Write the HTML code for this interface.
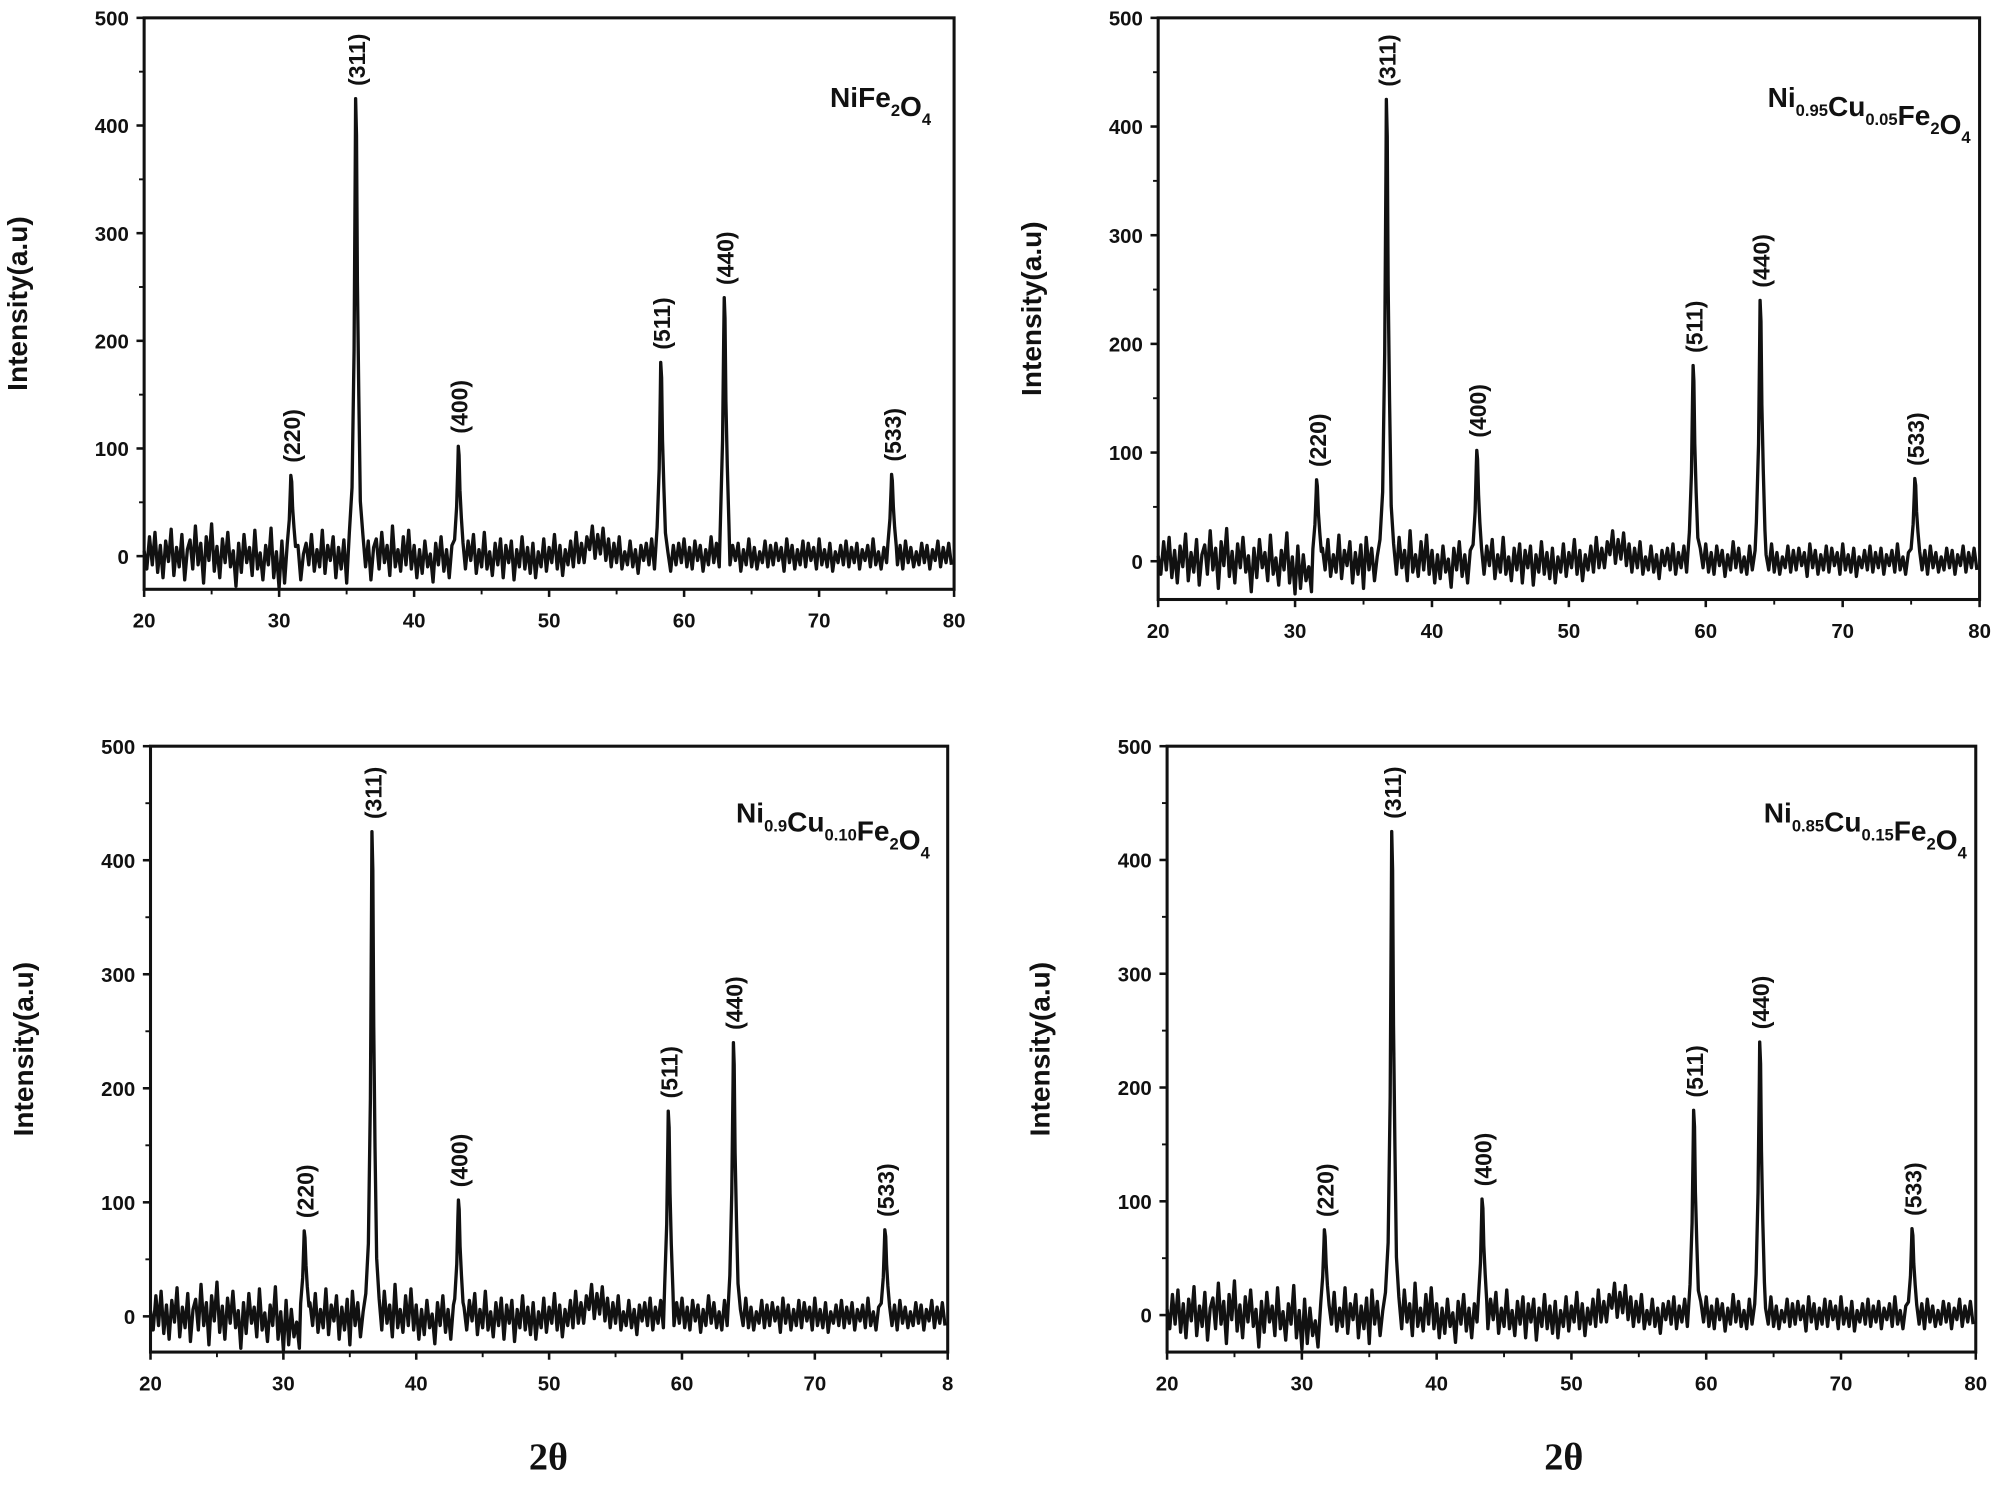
<!DOCTYPE html>
<html><head><meta charset="utf-8"><style>
html,body{margin:0;padding:0;background:#fff;}
svg{display:block;}
text{font-family:"Liberation Sans",Arial,sans-serif;font-weight:bold;fill:#111;}
</style></head>
<body>
<svg id="fig" width="2000" height="1486" viewBox="0 0 1568 1165" preserveAspectRatio="none" xmlns="http://www.w3.org/2000/svg">
<text x="430" y="1152" text-anchor="middle" style="font-family:'Liberation Serif',serif;font-size:30px">2θ</text>
<text x="1226" y="1152" text-anchor="middle" style="font-family:'Liberation Serif',serif;font-size:30px">2θ</text>
</svg>
<script>
const xTicks=[20,30,40,50,60,70,80];
const yTicks=[0,100,200,300,400,500];
const peakLabels=["(220)","(311)","(400)","(511)","(440)","(533)"];
const peakHeights=[75,425,102,180,240,76];
const peaksA=[30.9,35.7,43.3,58.3,63.0,75.4];
const peaksB=[31.6,36.7,43.3,59.1,64.0,75.3];
const peaksC=[31.6,36.7,43.2,59.0,63.9,75.3];
const peaksD=[31.7,36.7,43.4,59.1,64.0,75.3];
const noise=[
5,-12,18,-8,22,-15,10,-20,14,-5,25,-18,8,-10,20,-22,6,15,-12,28,
-8,12,-25,18,-4,30,-14,9,-20,16,-6,22,-10,5,-28,12,-15,20,-6,8,
-18,24,-12,3,-22,10,-8,26,-20,4,-30,14,-25,6,-18,-5,-28,10,-22,2,
12,-8,20,-14,6,-10,24,-16,10,-4,18,-20,8,-12,15,-25,22,-8,12,-18,
4,20,-10,14,-22,8,16,-12,22,-6,10,-18,28,-10,6,-14,18,-8,24,-12,
10,-20,6,-16,14,-10,2,-24,12,-8,18,-14,6,-20,10,-6,16,-18,8,-12,
14,-4,20,-16,6,-10,22,-12,4,-18,12,-8,16,-20,10,-6,14,-22,6,-10,
18,-12,8,-16,12,-20,4,-10,16,-14,8,-6,20,-12,10,-18,6,-8,14,-10,
22,-6,12,-16,8,-4,18,-12,10,-8,16,-14,6,-10,12,-6,18,-12,4,-8,
14,-10,6,-16,10,-4,12,-8,16,-12,8,-6,14,-10,4,-14,10,-8,12,-6,
16,-10,8,-12,14,-4,10,-14,6,-8,18,-6,12,-10,4,-12,14,-8,10,-4,
12,-14,6,-8,16,-10,8,-12,4,-6,14,-10,10,-8,12,-4,8,-14,16,-6,
10,-12,6,-8,14,-10,12,-4,8,-12,16,-8,6,-10,12,-14,4,-6,10,-8,
14,-10,8,-6,12,-12,6,-4,10,-10,16,-8,4,-12,8,-6,12,-10,6,-8,
10,-12,14,-6,8,-10,4,-8,12,-6,10,-12,6,-4,14,-10,8,-6,12,-8];
const panels=[
 {x0:113,x1:748,yTop:14,yZero:436,yBot:462,peaks:peaksA,label:[["Ni",""],["Fe","2"],["O","4"]],lx:730,ly:84,last:"80"},
 {x0:908,x1:1552,yTop:14,yZero:440,yBot:470,peaks:peaksB,label:[["Ni","0.95"],["Cu","0.05"],["Fe","2"],["O","4"]],lx:1545,ly:84,last:"80"},
 {x0:118,x1:743,yTop:585,yZero:1032,yBot:1060,peaks:peaksC,label:[["Ni","0.9"],["Cu","0.10"],["Fe","2"],["O","4"]],lx:729,ly:645,last:"8"},
 {x0:915,x1:1549,yTop:585,yZero:1031,yBot:1060,peaks:peaksD,label:[["Ni","0.85"],["Cu","0.15"],["Fe","2"],["O","4"]],lx:1542,ly:645,last:"80"}
];
const NS="http://www.w3.org/2000/svg";
const svg=document.getElementById('fig');
function mk(tag,attrs,parent){const e=document.createElementNS(NS,tag);for(const k in attrs)e.setAttribute(k,attrs[k]);(parent||svg).appendChild(e);return e;}
panels.forEach((p,pi)=>{
 const g=mk('g',{});
 
 
 const sx=v=>p.x0+(v-20)/60*(p.x1-p.x0);
 const per=(p.yZero-p.yTop)/500;
 const sy=v=>p.yZero-v*per;
 let pts=[];
 noise.forEach((n,i)=>{const x=20+i*0.2;let y=n;if(x>52.5&&x<54.5)y+=10;
   if(p.peaks.some(pk=>Math.abs(x-pk)<0.35))return; pts.push([x,y]);});
 p.peaks.forEach((pk,k)=>{const h=peakHeights[k];
   pts.push([pk-0.3,h*0.15]);pts.push([pk-0.15,h*0.45]);pts.push([pk-0.06,h*0.85]);pts.push([pk-0.03,h]);
   pts.push([pk+0.03,h*0.92]);pts.push([pk+0.1,h*0.6]);pts.push([pk+0.2,h*0.35]);pts.push([pk+0.32,h*0.12]);});
 pts.sort((a,b)=>a[0]-b[0]);
 const line=mk('polyline',{points:pts.map(q=>sx(q[0]).toFixed(1)+','+sy(q[1]).toFixed(1)).join(' '),fill:'none',stroke:'#111','stroke-width':2.6,'stroke-linejoin':'round'},g);
 
 
 const fr=mk('rect',{x:p.x0,y:p.yTop,width:p.x1-p.x0,height:p.yBot-p.yTop,fill:'none',stroke:'#111','stroke-width':2.4},g);
 
 
 xTicks.forEach((t,i)=>{
  mk('line',{x1:sx(t),x2:sx(t),y1:p.yBot,y2:p.yBot+6,stroke:'#111','stroke-width':2},g);
  if(i<6)mk('line',{x1:sx(t+5),x2:sx(t+5),y1:p.yBot,y2:p.yBot+4,stroke:'#111','stroke-width':1.5},g);
  const tx=mk('text',{x:sx(t),y:p.yBot+30,'text-anchor':'middle','font-size':16},g);
  tx.textContent=(i===6)?p.last:String(t);
  
  
 });
 yTicks.forEach((t,i)=>{
  mk('line',{x1:p.x0-6,x2:p.x0,y1:sy(t),y2:sy(t),stroke:'#111','stroke-width':2},g);
  if(i<5)mk('line',{x1:p.x0-4,x2:p.x0,y1:sy(t+50),y2:sy(t+50),stroke:'#111','stroke-width':1.5},g);
  const ty=mk('text',{x:p.x0-12,y:sy(t)+6,'text-anchor':'end','font-size':16},g);
  ty.textContent=String(t);
  
  
 });
 const yl=mk('text',{x:0,y:0,'text-anchor':'middle','font-size':22,transform:`translate(${p.x0-92},${(p.yTop+p.yBot)/2}) rotate(-90)`},g);
 yl.textContent='Intensity(a.u)';
 
 
 p.peaks.forEach((pk,k)=>{
  const lb=mk('text',{x:0,y:0,'text-anchor':'start','font-size':18,transform:`translate(${sx(pk)+7},${sy(peakHeights[k])-10}) rotate(-90)`},g);
  lb.textContent=peakLabels[k];
  
  
 });
 const ft=mk('text',{x:p.lx,y:p.ly,'text-anchor':'end','font-size':22},g);
 
 
 p.label.forEach(([el,sub])=>{
  const a=mk('tspan',{},ft);a.textContent=el;
  if(sub){const b=mk('tspan',{'font-size':13,dy:7},ft);b.textContent=sub;const c=mk('tspan',{dy:-7,'font-size':22},ft);c.textContent='';}
 });
});
</script>
</body></html>
